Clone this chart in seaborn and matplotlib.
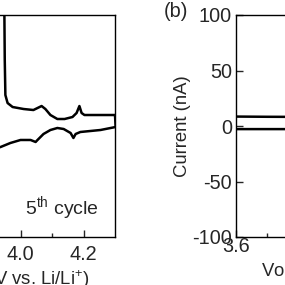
import numpy as np
import pandas as pd
import matplotlib
matplotlib.use("Agg")
import matplotlib.pyplot as plt
import seaborn as sns

sns.set_style("ticks")
plt.rcParams['font.family'] = ['Liberation Sans', 'DejaVu Sans']
plt.rcParams['mathtext.fontset'] = 'custom'
plt.rcParams['mathtext.rm'] = 'Liberation Sans'
plt.rcParams['axes.unicode_minus'] = False

# Panel (a): 5th cycle CV (one closed loop)
a_voltage = [3.948, 3.950, 3.952, 3.959, 3.975, 4.010, 4.041, 4.054, 4.067, 4.079, 4.095,
             4.117, 4.140, 4.165, 4.178, 4.187, 4.194, 4.203, 4.300,
             4.302, 4.254, 4.190, 4.175, 4.168, 4.159, 4.137, 4.117, 4.095, 4.073,
             4.054, 4.048, 4.032, 4.000, 3.968, 3.937, 3.900]
a_current = [130.0, 60.0, 27.9, 20.7, 17.1, 15.3, 14.4, 16.2, 18.0, 15.3, 9.9,
             6.3, 6.3, 8.1, 11.7, 18.0, 11.7, 9.9, 9.9,
             -0.9, -3.6, -5.4, -7.2, -10.8, -6.3, -2.7, -1.8, -3.6, -7.2,
             -12.6, -14.4, -12.6, -12.6, -15.3, -18.9, -22.0]

# Panel (b): current (nA)
b_voltage = [3.60, 3.70, 3.80, 3.90, 4.00, 4.10, 4.20, 4.30,
             4.30, 4.20, 4.10, 4.00, 3.90, 3.80, 3.70, 3.60]
b_current = [8.5, 8.3, 8.2, 8.2, 8.2, 8.2, 8.2, 8.2,
             -2.8, -2.8, -2.8, -2.8, -2.8, -2.8, -2.8, -2.8]

y_ticks = [-100, -50, 0, 50, 100]

W = H = 285.0
FS = 14.3
FL = 13.3
fig = plt.figure(figsize=(2.85, 2.85), dpi=100)

def px_axes(left, right, top, bottom):
    return fig.add_axes([left / W, 1 - bottom / H, (right - left) / W, (bottom - top) / H])

axA = px_axes(-105.5, 115, 15, 237)
axB = px_axes(236, 456.5, 15, 237)

dfa = pd.DataFrame({"V": a_voltage, "I": a_current, "o": range(len(a_voltage))})
dfb = pd.DataFrame({"V": b_voltage, "I": b_current, "o": range(len(b_voltage))})

sns.lineplot(data=dfa, x="V", y="I", sort=False, estimator=None, color="black", lw=1.8, ax=axA)
sns.lineplot(data=dfb, x="V", y="I", sort=False, estimator=None, color="black", lw=1.8, ax=axB)

for ax in (axA, axB):
    ax.set_xlim(3.6, 4.3)
    ax.set_ylim(-100, 100)
    ax.set_xticks([3.6, 3.8, 4.0, 4.2])
    ax.set_xticks([3.7, 3.9, 4.1], minor=True)
    ax.set_yticks(y_ticks)
    ax.tick_params(direction="in", length=5, width=1, labelsize=FS, top=False, right=False)
    ax.tick_params(which="minor", direction="in", length=3, width=1)
    for s in ax.spines.values():
        s.set_visible(True)
        s.set_linewidth(1.0)
        s.set_color("black")
    ax.set_xlabel("Voltage (V vs. Li/Li$^{+}$)", fontsize=FL, labelpad=3)

axA.tick_params(axis="x", pad=6)
axB.tick_params(axis="x", pad=0)
axB.tick_params(axis="y", pad=3)
axA.set_ylabel("")
axA.set_yticklabels([])
axB.set_ylabel("Current (nA)", fontsize=FL, labelpad=1)

axA.text(4.248, -80, "5$^{\\rm th}$ cycle", fontsize=14, ha="right", va="baseline")
fig.text(164 / W, 1 - 17 / H, "(b)", fontsize=FS, ha="left", va="baseline")

fig.savefig("out.png", dpi=100)
